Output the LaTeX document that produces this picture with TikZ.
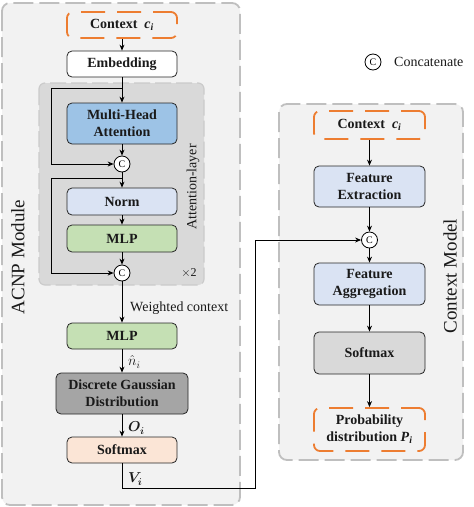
\documentclass[tikz,border=0pt]{standalone}
\usepackage{amsmath}
\usepackage{bm}
\usepackage{fontspec}
\setmainfont{Liberation Serif}
\usetikzlibrary{arrows.meta}
\definecolor{panelbg}{HTML}{F2F2F2}
\definecolor{panelln}{HTML}{BFBFBF}
\definecolor{attbg}{HTML}{D9D9D9}
\definecolor{attln}{HTML}{CBCBCB}
\definecolor{orng}{HTML}{ED7D31}
\definecolor{mhab}{HTML}{9DC3E6}
\definecolor{lav}{HTML}{DAE3F3}
\definecolor{grn}{HTML}{C5E0B4}
\definecolor{dgray}{HTML}{A5A5A5}
\definecolor{lgray}{HTML}{D9D9D9}
\definecolor{peach}{HTML}{FBE5D6}
\definecolor{txt}{HTML}{1A1A1A}
\begin{document}
\begin{tikzpicture}[x=1pt,y=-1pt,
  panel/.style={draw=panelln,fill=panelbg,line width=1.8pt,dash pattern=on 20pt off 6pt,rounded corners=8pt},
  attbox/.style={draw=attln,fill=attbg,line width=1.2pt,dash pattern=on 16pt off 5pt,rounded corners=6pt},
  blk/.style={draw=black!85,line width=0.8pt,rounded corners=5pt,minimum width=110pt,minimum height=26pt,align=center,text=txt,font=\fontsize{14}{17}\selectfont\bfseries,inner sep=1pt},
  dbox/.style={draw=orng,line width=1.8pt,dash pattern=on 24pt off 12pt,dash phase=6pt,rounded corners=6pt,minimum width=110pt,minimum height=26pt,align=center,text=txt,font=\fontsize{14}{17}\selectfont\bfseries,inner sep=1pt},
  cc/.style={circle,draw=black,fill=white,line width=0.8pt,minimum size=16pt,inner sep=0pt,font=\fontsize{10}{10}\selectfont},
  arr/.style={draw=black,line width=0.8pt,-{Stealth[length=6pt,width=5pt]}},
  ln/.style={draw=black,line width=0.8pt},
  lbl/.style={font=\fontsize{14}{16}\selectfont,text=txt,inner sep=0pt},
  big/.style={font=\fontsize{19}{20}\selectfont,text=txt,inner sep=0pt}
]
\useasboundingbox (0,0) rectangle (474,507);

% panels
\draw[panel] (2,3) rectangle (240,505);
\draw[panel] (279,104) rectangle (463,460);
\draw[attbox] (39,83) rectangle (204,285);

% rotated texts
\node[big,rotate=90] (acnp) at (18,257) {ACNP Module};
\node[big,rotate=90] (cmod) at (450,276) {Context Model};
\node[lbl,rotate=90] (attl) at (193,187) {Attention-layer};
\node[lbl,font=\fontsize{12}{12}\selectfont] (x2) at (189,273) {$\times$2};

% legend
\node[cc] (lc) at (373,62) {C};
\node[lbl,anchor=west] (lt) at (394,62) {Concatenate};

% left column
\node[dbox] (ctxL) at (122,25) {Context\ \ \textit{c}\textsubscript{\textit{i}}};
\node[blk,fill=white] (emb) at (122,64) {Embedding};
\node[blk,fill=mhab,minimum height=41pt] (mha) at (122,123.5) {Multi-Head\\Attention};
\node[cc] (c1) at (122,164) {C};
\node[blk,fill=lav,minimum height=27pt] (norm) at (122,201.5) {Norm};
\node[blk,fill=grn,minimum height=27pt] (mlp1) at (122,238.5) {MLP};
\node[cc] (c2) at (122,273) {C};
\node[blk,fill=grn] (mlp2) at (122,336) {MLP};
\node[blk,fill=dgray,minimum width=132pt,minimum height=41pt] (dgd) at (122,393.5) {Discrete Gaussian\\Distribution};
\node[blk,fill=peach] (soft) at (122,450) {Softmax};

% right column
\node[dbox,minimum width=111pt,minimum height=28pt] (ctxR) at (369.5,125) {Context\ \ \textit{c}\textsubscript{\textit{i}}};
\node[blk,fill=lav,minimum width=111pt,minimum height=41pt] (fe) at (369.5,186.5) {Feature\\Extraction};
\node[cc] (c3) at (369.5,240) {C};
\node[blk,fill=lav,minimum width=111pt,minimum height=42pt] (fa) at (369.5,284) {Feature\\Aggregation};
\node[blk,fill=lgray,minimum width=111pt,minimum height=42pt] (softR) at (369.5,353) {Softmax};
\node[dbox,minimum width=111pt,minimum height=43pt] (prob) at (369.5,429.5) {Probability\\distribution \textit{P}\textsubscript{\textit{i}}};

% coordinates
\coordinate (s1a) at (122,88);
\coordinate (s1b) at (51,88);
\coordinate (s1c) at (51,164);
\coordinate (s2a) at (122,178);
\coordinate (s2b) at (51,178);
\coordinate (s2c) at (51,273);
\coordinate (v1) at (122,488);
\coordinate (v2) at (255,488);
\coordinate (v3) at (255,240);

% left connectors
\draw[arr] (ctxL) -- (emb);
\draw[arr] (emb) -- (mha);
\draw[arr] (s1a) -- (s1b) -- (s1c) -- (c1);
\draw[arr] (mha) -- (c1);
\draw[arr] (c1) -- (norm);
\draw[arr] (s2a) -- (s2b) -- (s2c) -- (c2);
\draw[arr] (norm) -- (mlp1);
\draw[arr] (mlp1) -- (c2);
\draw[arr] (c2) -- (mlp2);
\draw[arr] (mlp2) -- (dgd);
\draw[arr] (dgd) -- (soft);
\draw[arr] (soft.south) -- (v1) -- (v2) -- (v3) -- (c3);

% labels
\node[lbl,anchor=west] (wc) at (130,308) {Weighted context};
\node[lbl,anchor=west] (nh) at (128,362) {$\hat{n}_i$};
\node[lbl,anchor=west] (oi) at (128,428) {$\bm{O_i}$};
\node[lbl,anchor=west] (vi) at (128,479) {$\bm{V_i}$};

% right connectors
\draw[arr] (ctxR) -- (fe);
\draw[arr] (fe) -- (c3);
\draw[arr] (c3) -- (fa);
\draw[arr] (fa) -- (softR);
\draw[arr] (softR) -- (prob);
\end{tikzpicture}
\end{document}
